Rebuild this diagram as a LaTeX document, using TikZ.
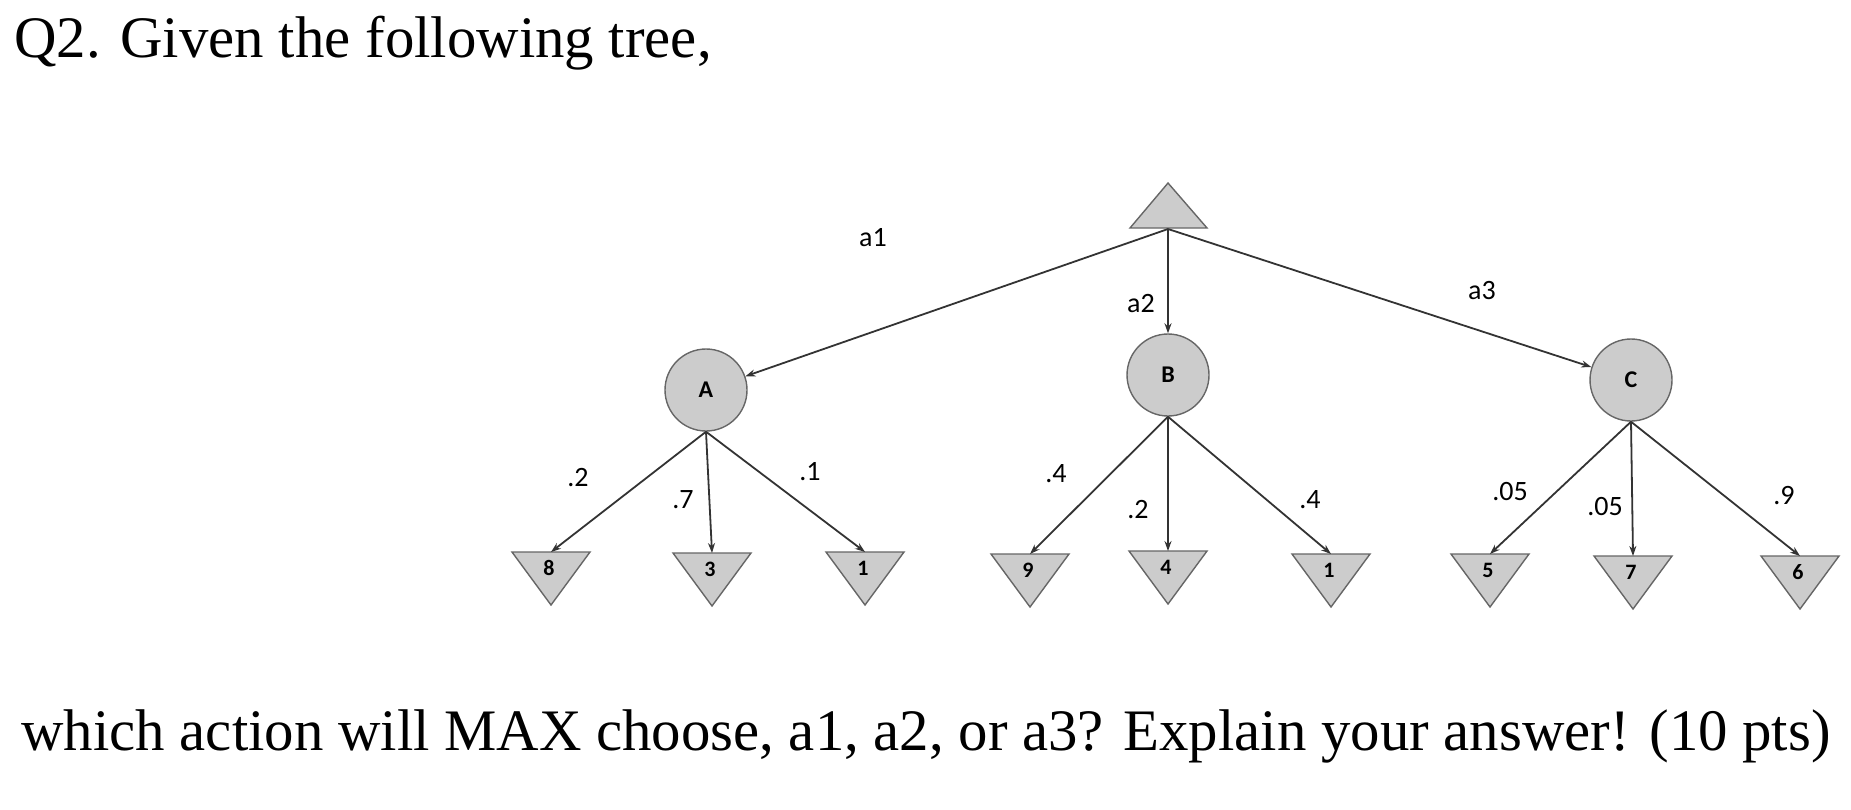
\documentclass[tikz,border=0pt]{standalone}
\usepackage{fontspec}
\setmainfont{Liberation Serif}
\newfontfamily\lblfont{Carlito}
\usetikzlibrary{arrows.meta}
\begin{document}
\begin{tikzpicture}[x=0.5pt,y=-0.5pt,
  shapest/.style={draw=black!60,fill=black!20,line width=0.7pt},
  chance/.style={shapest,circle,minimum size=41pt,inner sep=0pt,font=\lblfont\fontsize{12}{14}\selectfont\bfseries},
  edge/.style={draw=black!80,line width=0.9pt,-{Stealth[length=5pt,width=3.5pt]}},
  lbl/.style={font=\lblfont\fontsize{14}{16}\selectfont,inner sep=0pt},
  num/.style={font=\lblfont\fontsize{11}{12}\selectfont\bfseries,inner sep=0pt}]
\useasboundingbox (0,0) rectangle (1851,809);
\node[anchor=base west,font=\fontsize{29.4}{32}\selectfont,inner sep=0pt] (title) at (14,57) {Q2. Given the following tree,};
\node[anchor=base west,font=\fontsize{29.4}{32}\selectfont,inner sep=0pt] (question) at (21,750) {which action will MAX choose, a1, a2, or a3? Explain your answer! (10 pts)};
% root
\draw[shapest] (1130,228) -- (1207,228) -- (1168,183) -- cycle;
\coordinate (root) at (1168,229);
% chance nodes
\node[chance] (A) at (706,390) {A};
\node[chance] (B) at (1168,375) {B};
\node[chance] (C) at (1631,380) {C};
\draw[edge] (root) -- (A);
\draw[edge] (root) -- (B);
\draw[edge] (root) -- (C);
\node[lbl] (la1) at (873,238) {a1};
\node[lbl] (la2) at (1141,304) {a2};
\node[lbl] (la3) at (1482,291) {a3};
% leaves
\foreach \n/\x/\y/\v in {l1/551/552/8,l2/712/553/3,l3/865/552/1,l4/1030/554/9,l5/1168/551/4,l6/1331/554/1,l7/1490/554/5,l8/1633/556/7,l9/1800/556/6}{
  \draw[shapest] (\x-39,\y) -- (\x+39,\y) -- (\x,\y+53) -- cycle;
  \coordinate (\n) at (\x,\y);
  \node[num] (\n v) at (\x-2,\y+16) {\v};
}
\foreach \p/\c in {A/l1,A/l2,A/l3,B/l4,B/l5,B/l6,C/l7,C/l8,C/l9}{
  \draw[edge] (\p.-90) -- (\c);
}
\foreach \t/\x/\y in {.2/578/478,.7/683/500,.1/810/472,.4/1056/474,.2/1138/510,.4/1310/500,.05/1510/492,.05/1605/507,.9/1784/496}{
  \node[lbl] at (\x,\y) {\t};
}
\end{tikzpicture}
\end{document}
